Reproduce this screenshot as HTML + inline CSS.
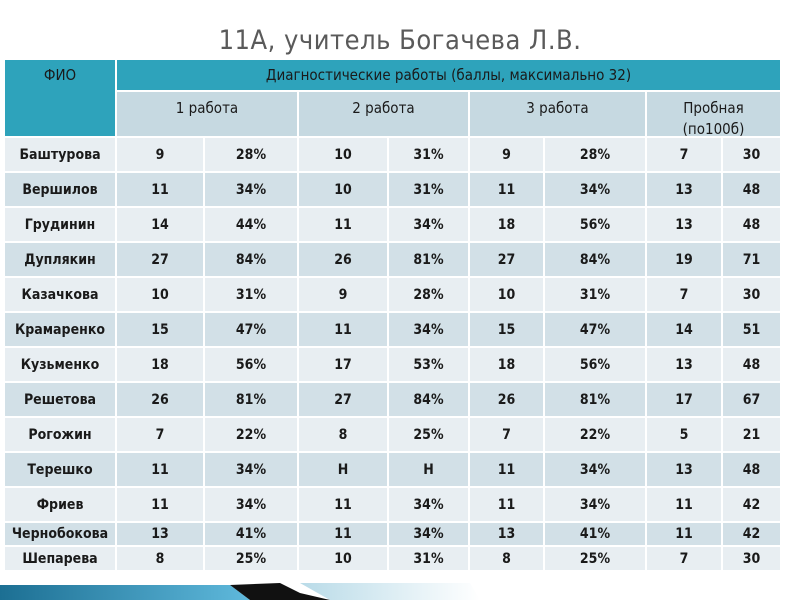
<!DOCTYPE html>
<html><head><meta charset="utf-8">
<style>
body{margin:0;width:800px;height:600px;background:#fff;overflow:hidden;font-family:"Liberation Sans","DejaVu Sans",sans-serif;position:relative}
#title{position:absolute;left:0;width:800px;top:25px;text-align:center;font-size:27px;color:#5a5a5a;font-family:"DejaVu Sans Condensed","Liberation Sans",sans-serif;letter-spacing:0.5px}
.c{position:absolute;box-sizing:border-box;display:flex;align-items:center;justify-content:center;font-size:14px;font-weight:bold;color:#1a1a1a;border-right:2px solid #fff;border-bottom:2px solid #fff;font-family:"DejaVu Sans Condensed","Liberation Sans",sans-serif}
.h1{background:#2ea3bb;color:#1a1a1a;font-weight:normal;font-size:15px}
.h2{background:#c6d9e1;font-weight:normal;align-items:flex-start;padding-top:6px;text-align:center;line-height:21px;font-size:15px}
#bar{position:absolute;left:0;top:583px;width:800px;height:17px}
</style></head><body>
<div id="title">11А, учитель Богачева Л.В.</div>
<div id="tbl"></div>
<svg id="bar" viewBox="0 0 800 17">
<defs><linearGradient id="g" x1="0" x2="1"><stop offset="0" stop-color="#1c6f93"/><stop offset="1" stop-color="#5fb9dc"/></linearGradient>
<linearGradient id="g2" x1="0" x2="1"><stop offset="0" stop-color="#b9dbe8"/><stop offset="1" stop-color="#ffffff"/></linearGradient></defs>
<polygon points="300,0 470,0 480,17 330,17" fill="url(#g2)"/>
<polygon points="0,2 230,2 250,17 0,17" fill="url(#g)"/>
<polygon points="230,2 280,0 300,10 330,17 250,17" fill="#111"/>
</svg>
<script>
const names=["Баштурова","Вершилов","Грудинин","Дуплякин","Казачкова","Крамаренко","Кузьменко","Решетова","Рогожин","Терешко","Фриев","Чернобокова","Шепарева"];
const work1=["9|28%","11|34%","14|44%","27|84%","10|31%","15|47%","18|56%","26|81%","7|22%","11|34%","11|34%","13|41%","8|25%"];
const work2=["10|31%","10|31%","11|34%","26|81%","9|28%","11|34%","17|53%","27|84%","8|25%","Н|Н","11|34%","11|34%","10|31%"];
const work3=["9|28%","11|34%","18|56%","27|84%","10|31%","15|47%","18|56%","26|81%","7|22%","11|34%","11|34%","13|41%","8|25%"];
const trial=["7|30","13|48","13|48","19|71","7|30","14|51","13|48","17|67","5|21","13|48","11|42","11|42","7|30"];
const colX=[5,117,205,299,389,470,545,647,723,782];
const tbl=document.getElementById('tbl');
function cell(x1,x2,y1,y2,txt,cls,bg){
  const d=document.createElement('div');
  d.className='c '+(cls||'');
  d.style.left=x1+'px';d.style.top=y1+'px';d.style.width=(x2-x1)+'px';d.style.height=(y2-y1)+'px';
  if(bg)d.style.background=bg;
  d.innerHTML=txt;
  tbl.appendChild(d);return d;
}
let e;
e=cell(5,117,60,138,'ФИО','h1');e.style.alignItems='flex-start';e.style.paddingTop='6px';


e=cell(117,782,60,92,'Диагностические работы (баллы, максимально 32)','h1');


const sub=['1 работа','2 работа','3 работа','Пробная<br>(по100б)'];
for(let i=0;i<4;i++){
  e=cell(colX[1+2*i],colX[3+2*i],92,138,sub[i],'h2');
  
  
}
const tops=[];let y=138;
for(let r=0;r<names.length;r++){tops.push(y);y+= r<11?35:(r==11?24:25);}
tops.push(y);
const cols=[work1,work2,work3,trial];
for(let r=0;r<names.length;r++){
  const bg=r%2==0?'#e8eef2':'#d2e0e7';
  e=cell(colX[0],colX[1],tops[r],tops[r+1],names[r],'',bg);
  
  
  for(let k=0;k<4;k++){
    const p=cols[k][r].split('|');
    for(let j=0;j<2;j++){
      e=cell(colX[1+2*k+j],colX[2+2*k+j],tops[r],tops[r+1],p[j],'',bg);
      
      
    }
  }
}
</script>
</body></html>
